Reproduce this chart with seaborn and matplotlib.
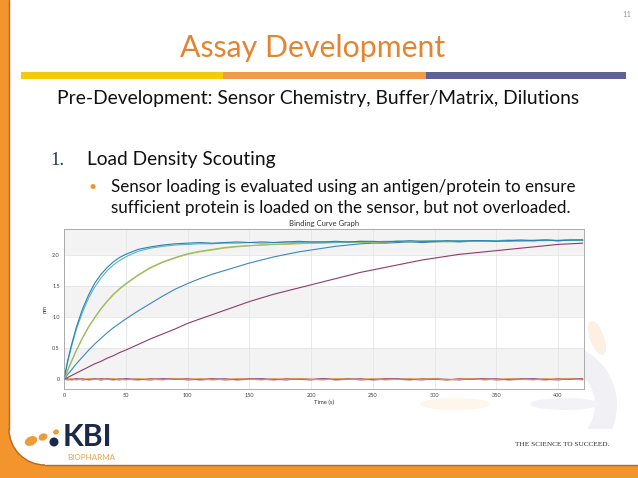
import numpy as np
import pandas as pd
import seaborn as sns
import matplotlib
matplotlib.use("Agg")
import matplotlib.pyplot as plt
from matplotlib.patches import Rectangle, Circle, Ellipse, Arc, Wedge

# ---------------- data ----------------
TIME = [0, 3, 6, 10, 15, 20, 25, 30, 35, 40, 45, 50,
        60, 70, 80, 90, 100, 110, 120, 130, 140, 150,
        160, 170, 180, 190, 200, 210, 220, 230, 240, 250,
        260, 270, 280, 290, 300, 310, 320, 330, 340, 350,
        360, 370, 380, 390, 400, 410, 420]

SENSOR_A = [0, 0.30, 0.55, 0.84, 1.13, 1.36, 1.55, 1.69, 1.80, 1.89, 1.96, 2.01,
            2.09, 2.13, 2.16, 2.18, 2.19, 2.20, 2.19, 2.20, 2.21, 2.20,
            2.21, 2.20, 2.21, 2.22, 2.21, 2.21, 2.22, 2.21, 2.22, 2.22,
            2.21, 2.22, 2.23, 2.22, 2.22, 2.23, 2.22, 2.23, 2.23, 2.22,
            2.23, 2.24, 2.23, 2.24, 2.23, 2.24, 2.24]
SENSOR_B = [0, 0.28, 0.52, 0.80, 1.08, 1.31, 1.49, 1.63, 1.75, 1.84, 1.91, 1.97,
            2.06, 2.11, 2.14, 2.16, 2.17, 2.18, 2.18, 2.19, 2.19, 2.20,
            2.19, 2.20, 2.21, 2.20, 2.21, 2.21, 2.20, 2.21, 2.22, 2.21,
            2.22, 2.22, 2.21, 2.22, 2.23, 2.22, 2.23, 2.22, 2.23, 2.23,
            2.24, 2.23, 2.24, 2.24, 2.23, 2.24, 2.25]
SENSOR_C = [0, 0.15, 0.29, 0.47, 0.67, 0.85, 1.00, 1.14, 1.26, 1.37, 1.46, 1.54,
            1.68, 1.80, 1.89, 1.96, 2.02, 2.06, 2.09, 2.12, 2.14, 2.15,
            2.16, 2.17, 2.18, 2.19, 2.19, 2.20, 2.20, 2.21, 2.20, 2.21,
            2.21, 2.22, 2.21, 2.22, 2.22, 2.21, 2.22, 2.23, 2.22, 2.23,
            2.23, 2.22, 2.23, 2.24, 2.23, 2.24, 2.24]
SENSOR_C2 = [0, 0.14, 0.28, 0.46, 0.66, 0.84, 0.99, 1.13, 1.25, 1.36, 1.45, 1.53,
             1.67, 1.79, 1.88, 1.95, 2.01, 2.05, 2.08, 2.11, 2.13, 2.15,
             2.16, 2.17, 2.17, 2.18, 2.19, 2.19, 2.20, 2.20, 2.21, 2.20,
             2.21, 2.22, 2.21, 2.22, 2.21, 2.22, 2.23, 2.22, 2.23, 2.22,
             2.23, 2.24, 2.23, 2.23, 2.24, 2.25, 2.24]
SENSOR_D = [0, 0.08, 0.15, 0.25, 0.36, 0.47, 0.57, 0.66, 0.75, 0.83, 0.90, 0.97,
            1.10, 1.22, 1.34, 1.45, 1.54, 1.62, 1.69, 1.75, 1.81, 1.87,
            1.92, 1.97, 2.01, 2.05, 2.08, 2.11, 2.14, 2.16, 2.18, 2.19,
            2.19, 2.20, 2.21, 2.20, 2.21, 2.22, 2.21, 2.22, 2.22, 2.23,
            2.22, 2.23, 2.23, 2.24, 2.23, 2.24, 2.24]
SENSOR_E = [0, 0.03, 0.06, 0.10, 0.15, 0.20, 0.25, 0.29, 0.34, 0.38, 0.43, 0.47,
            0.56, 0.65, 0.73, 0.81, 0.90, 0.97, 1.04, 1.11, 1.18, 1.25,
            1.31, 1.37, 1.42, 1.47, 1.52, 1.57, 1.62, 1.67, 1.72, 1.76,
            1.80, 1.84, 1.88, 1.92, 1.95, 1.98, 2.01, 2.03, 2.05, 2.07,
            2.09, 2.11, 2.13, 2.15, 2.17, 2.18, 2.19]
REF_1 = [0, 0.01, -0.01, 0.00, 0.01, -0.01, 0.00, 0.01, 0.00, -0.01, 0.01, 0.00,
         -0.01, 0.01, 0.00, 0.01, -0.01, 0.00, 0.01, -0.01, 0.00, 0.01,
         0.00, -0.01, 0.01, 0.00, -0.01, 0.01, 0.00, 0.01, -0.01, 0.00,
         0.01, 0.00, -0.01, 0.01, 0.00, -0.01, 0.01, 0.00, 0.01, -0.01,
         0.00, 0.01, 0.00, -0.01, 0.01, 0.00, 0.01]
REF_2 = [0, -0.01, 0.00, 0.01, -0.01, 0.00, 0.01, -0.01, 0.01, 0.00, -0.01, 0.01,
         0.00, -0.01, 0.01, 0.00, 0.01, -0.01, 0.00, 0.01, -0.01, 0.00,
         0.01, 0.00, -0.01, 0.01, 0.00, 0.01, -0.01, 0.00, 0.01, -0.01,
         0.00, 0.01, 0.00, -0.01, 0.01, 0.00, -0.01, 0.01, 0.00, 0.01,
         -0.01, 0.00, 0.01, 0.00, -0.01, 0.01, 0.00]
REF_3 = [0, 0.00, 0.01, -0.01, 0.00, 0.01, 0.00, -0.01, 0.00, 0.01, 0.00, -0.01,
         0.01, 0.00, -0.01, 0.01, 0.00, 0.01, -0.01, 0.00, 0.01, 0.00,
         -0.01, 0.01, 0.00, 0.01, 0.00, -0.01, 0.01, 0.00, 0.00, 0.01,
         -0.01, 0.00, 0.01, 0.00, 0.01, -0.01, 0.00, 0.01, -0.01, 0.00,
         0.01, 0.00, -0.01, 0.01, 0.00, 0.01, -0.01]

SENSORS = ["Ref 1", "Ref 2", "Ref 3", "E", "D", "C2", "C", "B", "A"]
VALUES = [REF_1, REF_2, REF_3, SENSOR_E, SENSOR_D, SENSOR_C2, SENSOR_C, SENSOR_B, SENSOR_A]
COLORS = ["#c0504d", "#8a4a9c", "#e39b3b", "#8e3b6a", "#3b86c6",
          "#d9b94a", "#8cc06a", "#52b8c6", "#2f7fb0"]

X_TICKS = [0, 50, 100, 150, 200, 250, 300, 350, 400]
Y_TICKS = [0, 0.5, 1.0, 1.5, 2.0]
Y_TICK_LABELS = ["0", "0.5", "1.0", "1.5", "2.0"]

df = pd.concat([pd.DataFrame({"Time": TIME, "nm": v, "Sensor": s})
                for s, v in zip(SENSORS, VALUES)], ignore_index=True)

# ---------------- figure ----------------
sns.set_style("white")
plt.rcParams["font.family"] = ["Lato", "DejaVu Sans"]

W, H = 638, 478
fig = plt.figure(figsize=(W / 100, H / 100), dpi=100, facecolor="white")
renderer = fig.canvas.get_renderer()

bg = fig.add_axes([0, 0, 1, 1], zorder=0)
bg.set_xlim(0, W)
bg.set_ylim(H, 0)
bg.axis("off")

ORANGE = "#f3942c"
EDGE = "#b06a22"

# left strip, bottom band, rounded corner
bg.add_patch(Rectangle((0, 0), 9, H, color=ORANGE, lw=0))
bg.add_patch(Rectangle((0, 465), W, 13, color=ORANGE, lw=0))
bg.add_patch(Rectangle((0, 420), 46, 46, color=ORANGE, lw=0))
bg.add_patch(Circle((45, 429), 36, color="white", lw=0))
bg.add_patch(Rectangle((45, 429), W, 36, color="white", lw=0))
bg.add_patch(Rectangle((9, 0), W, 429, color="white", lw=0, zorder=0.5))
bg.plot([9, 9], [0, 429], color=EDGE, lw=1.0, zorder=1)
bg.plot([45, W], [465, 465], color=EDGE, lw=1.0, zorder=1)
bg.add_patch(Arc((45, 429), 72, 72, theta1=90, theta2=180, color=EDGE, lw=1.0, zorder=1))

# faint watermark shapes
for p in [Ellipse((597, 338), 14, 36, angle=-20, color="#fdf0e2", lw=0),
          Wedge((555, 405), 62, -70, 70, width=22, color="#f0f0f5", lw=0),
          Ellipse((455, 404), 70, 12, color="#fef5eb", lw=0),
          Ellipse((565, 404), 70, 12, color="#f3f3f7", lw=0)]:
    p.set_zorder(0.8)
    bg.add_patch(p)

# colour bar under title
bg.add_patch(Rectangle((21, 72), 202, 7, color="#f7c90b", lw=0, zorder=1))
bg.add_patch(Rectangle((223, 72), 203, 7, color="#f19a4a", lw=0, zorder=1))
bg.add_patch(Rectangle((426, 72), 200, 7, color="#5f6199", lw=0, zorder=1))


def fit(x, y, s, width, size0=12, ha="left", **kw):
    t = bg.text(x, y, s, fontsize=size0, va="baseline", ha=ha, zorder=3, **kw)
    w = t.get_window_extent(renderer).width
    t.set_fontsize(size0 * width / w)
    return t


bg.text(627, 17, "11", fontsize=5.5, color="#9a9a9a", ha="center", va="baseline", zorder=3)
fit(180, 57, "Assay Development", 265, color="#e5832f")
fit(57, 104, "Pre-Development: Sensor Chemistry, Buffer/Matrix, Dilutions", 520, color="#111111")
fit(50, 165, "1.", 14, color="#1f3a60", family=["Liberation Serif", "DejaVu Serif"])
fit(87, 165, "Load Density Scouting", 188, color="#111111")
bg.text(93, 191, "\u2022", fontsize=10, color="#f0952f", ha="center", va="baseline", zorder=3)
t1 = fit(111, 192, "Sensor loading is evaluated using an antigen/protein to ensure", 462, color="#111111")
bg.text(111, 213, "sufficient protein is loaded on the sensor, but not overloaded.",
        fontsize=t1.get_fontsize(), color="#111111", va="baseline", zorder=3)

# footer logo
bg.add_patch(Ellipse((31, 441), 13, 9, angle=-25, color="#f19a3a", lw=0, zorder=2))
bg.add_patch(Ellipse((43, 437), 9, 7, angle=-25, color="#f19a3a", lw=0, zorder=2))
bg.add_patch(Ellipse((54, 442), 9, 9, angle=-25, color="#1b2a4a", lw=0, zorder=2))
bg.add_patch(Ellipse((56, 432), 6, 5, angle=-25, color="#f19a3a", lw=0, zorder=2))
fit(63, 446, "KBI", 50, color="#1b2a4a", fontweight="bold")
fit(67, 460, "BIOPHARMA", 48, color="#e8a54a")
fit(515, 446, "THE SCIENCE TO SUCCEED.", 93, color="#2a2a3a",
    family=["Liberation Serif", "DejaVu Serif"])

# ---------------- chart ----------------
ax = fig.add_axes([64 / W, 1 - 389 / H, 520 / W, 160 / H], zorder=2)
ax.set_facecolor("white")
for lo, hi in [(2.0, 2.5), (1.0, 1.5), (0.0, 0.5)]:
    ax.axhspan(lo, hi, color="#f3f3f3", lw=0, zorder=0)

sns.lineplot(data=df, x="Time", y="nm", hue="Sensor", palette=dict(zip(SENSORS, COLORS)),
             hue_order=SENSORS, legend=False, ax=ax, linewidth=0.8, estimator=None, sort=False)

ax.set_xlim(0, 421)
ax.set_ylim(-0.156, 2.418)
ax.set_xticks(X_TICKS)
ax.set_xticks(range(0, 421, 10), minor=True)
ax.set_yticks(Y_TICKS)
ax.set_yticklabels(Y_TICK_LABELS)
ax.grid(True, which="major", color="#e2e2e2", lw=0.5)
ax.set_axisbelow(True)
ax.tick_params(axis="both", which="major", labelsize=4, length=0, pad=3, colors="#444444")
ax.tick_params(axis="x", which="minor", direction="in", length=2, width=0.4, color="#999999")
for s in ax.spines.values():
    s.set_color("#a0a0a0")
    s.set_linewidth(0.6)
ax.set_xlabel("Time (s)", fontsize=4.2, color="#333333", labelpad=1.5)
ax.set_ylabel("nm", fontsize=4.2, color="#333333", labelpad=3)
ax.set_title("Binding Curve Graph", fontsize=5.5, color="#333333", pad=2)

fig.savefig("out.png", dpi=100, facecolor="white")
